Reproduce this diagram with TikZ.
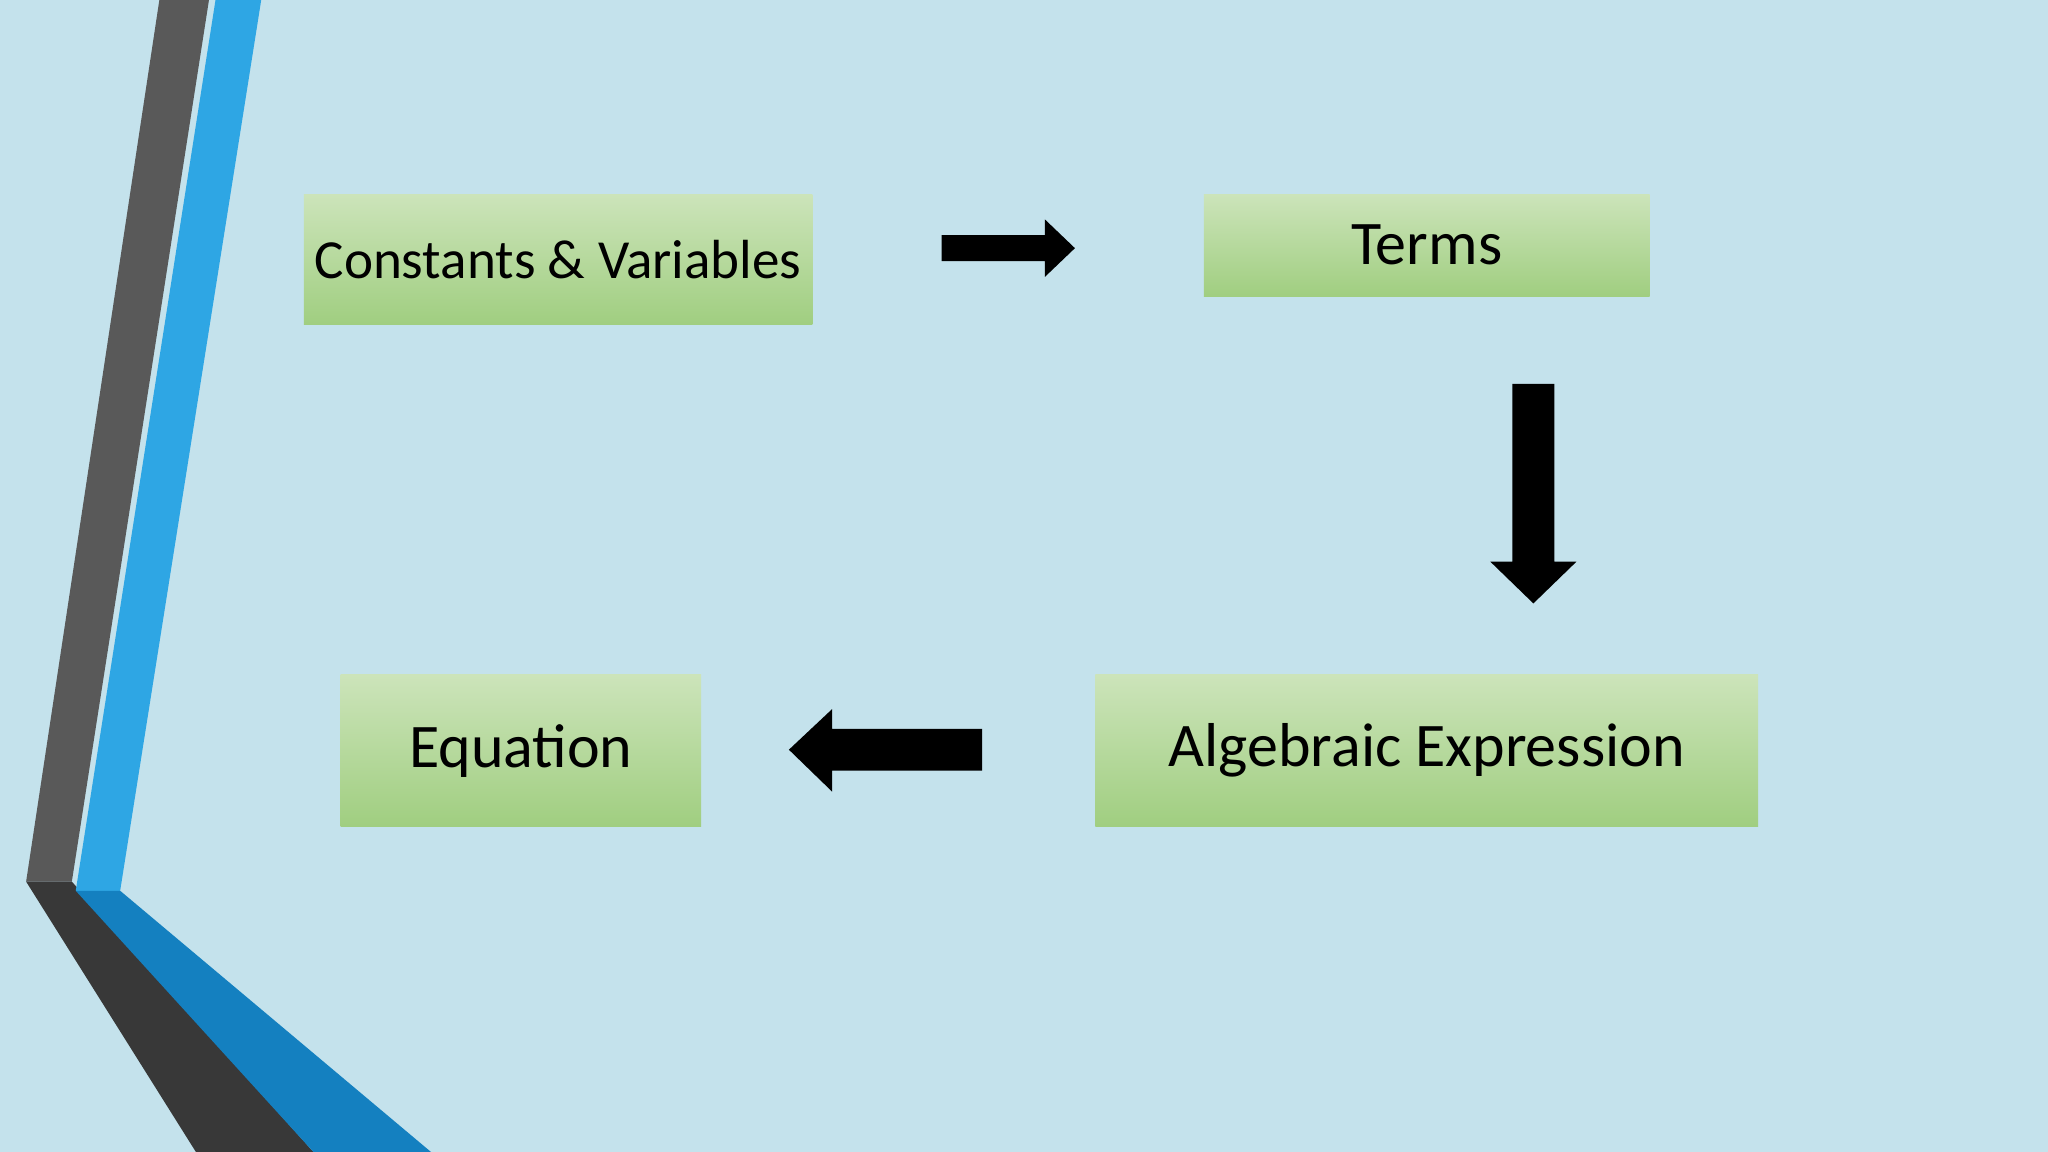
\documentclass[tikz,border=0pt]{standalone}
\usepackage{fontspec}
\setmainfont{Carlito}
\definecolor{bg}{RGB}{196,226,236}
\definecolor{btop}{RGB}{204,228,186}
\definecolor{bbot}{RGB}{160,206,128}
\definecolor{blue1}{RGB}{46,166,228}
\definecolor{blue2}{RGB}{20,128,192}
\begin{document}
\begin{tikzpicture}[x=0.01cm,y=-0.01cm,
 box/.style={rectangle,top color=btop,bottom color=bbot,inner sep=0pt,anchor=north west,font=\fontsize{13.5}{15}\selectfont}]
\useasboundingbox (0,0) rectangle (1568,882);
\fill[bg] (0,0) rectangle (1568,882);
\fill[black!65] (122,0) -- (160,0) -- (55,675) -- (20,675) -- cycle;
\fill[black!78] (20,675) -- (55,675) -- (240,882) -- (150,882) -- cycle;
\fill[blue1] (165,0) -- (200,0) -- (92,682) -- (58,682) -- cycle;
\fill[blue2] (58,682) -- (92,682) -- (330,882) -- (240,882) -- cycle;
\node[box,minimum width=3.89cm,minimum height=1.0cm,font=\fontsize{12}{14}\selectfont] (cv) at (232,148) {Constants \&\ Variables};
\node[box,minimum width=3.41cm,minimum height=0.78cm] (t) at (921,148) {Terms};
\node[box,minimum width=2.76cm,minimum height=1.16cm] (eq) at (260,516) {Equation};
\node[box,minimum width=5.07cm,minimum height=1.16cm] (ae) at (838,516) {Algebraic Expression};
% block arrows
\fill (721,180) -- (800,180) -- (800,168) -- (823,190) -- (800,212) -- (800,200) -- (721,200) -- cycle;
\fill (1158,294) -- (1190,294) -- (1190,430) -- (1207,430) -- (1174,462) -- (1141,430) -- (1158,430) -- cycle;
\fill (752,558) -- (637,558) -- (637,543) -- (604,574) -- (637,606) -- (637,590) -- (752,590) -- cycle;
\end{tikzpicture}
\end{document}
